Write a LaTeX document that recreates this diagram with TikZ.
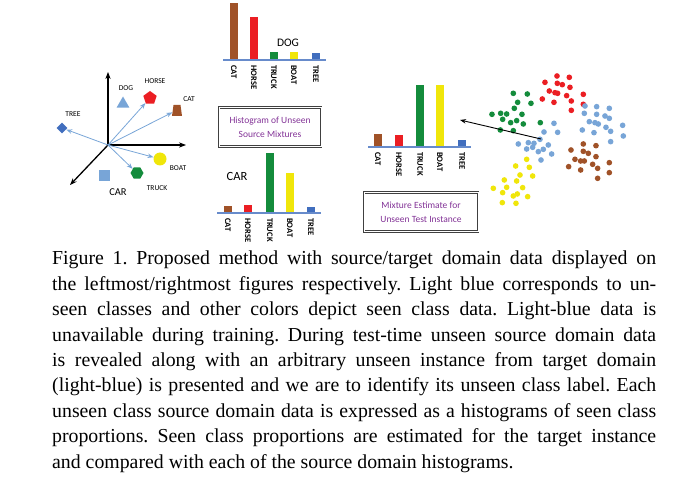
\documentclass[tikz,border=0pt]{standalone}
\usepackage{fontspec}
\setmainfont{Liberation Serif}
\newfontfamily\lab{Carlito}
\usetikzlibrary{shapes.geometric,arrows.meta}
\definecolor{cbrown}{RGB}{160,82,40}
\definecolor{cred}{RGB}{235,30,35}
\definecolor{cgreen}{RGB}{20,140,60}
\definecolor{cyellow}{RGB}{240,230,10}
\definecolor{cblue}{RGB}{65,110,190}
\definecolor{clblue}{RGB}{120,165,215}
\definecolor{cpurple}{RGB}{130,50,150}
\begin{document}
\begin{tikzpicture}[x=1pt,y=-1pt,
  lbl/.style={font=\lab\fontsize{7.5}{8}\selectfont,inner sep=0pt},
  hl/.style={font=\lab\bfseries\fontsize{8.5}{9}\selectfont,rotate=-90,anchor=west,inner sep=0pt},
  base/.style={draw=cblue!80,line width=1.5pt},
  box/.style={draw=black!75,double=white,double distance=1pt,line width=0.8pt,minimum width=102pt,minimum height=39pt,align=center,text=cpurple,font=\lab\fontsize{9.5}{14}\selectfont},
  ax/.style={-{Stealth[length=7pt]},line width=1.3pt},
  va/.style={-{Stealth[length=6pt,open]},clblue,line width=0.8pt}]
\useasboundingbox (0,0) rectangle (682,486);
% axes
\coordinate (O) at (108,145);
\coordinate (yu) at (108,72);
\coordinate (xr) at (186,145);
\coordinate (zd) at (70,185);
\draw[ax] (O) -- (yu);
\draw[ax] (O) -- (xr);
\draw[ax] (O) -- (zd);
\node[diamond,fill=cblue,minimum size=11pt,inner sep=0pt] (tree) at (62,128) {};
\node[lbl] (treel) at (73,114) {TREE};
\node[regular polygon,regular polygon sides=3,fill=clblue,minimum size=15pt,inner sep=0pt] (dog) at (123,104) {};
\node[lbl] (dogl) at (126,88) {DOG};
\node[regular polygon,regular polygon sides=5,fill=cred,minimum size=14pt,inner sep=0pt] (horse) at (150,98) {};
\node[lbl] (horsel) at (155,81) {HORSE};
\node[circle,inner sep=0pt,minimum size=10pt] (cat) at (177,110) {};
\fill[cbrown] (173.5,105) -- (180.5,105) -- (182,116) -- (172,116) -- cycle;
\node[lbl] (catl) at (189,99) {CAT};
\node[circle,fill=cyellow,minimum size=13pt,inner sep=0pt] (boat) at (160,159) {};
\node[lbl] (boatl) at (178,168) {BOAT};
\node[regular polygon,regular polygon sides=6,fill=cgreen,minimum size=13pt,inner sep=0pt] (truck) at (137,173) {};
\node[lbl] (truckl) at (157,188) {TRUCK};
\node[rectangle,fill=clblue,minimum size=11pt,inner sep=0pt] (car) at (104,176) {};
\node[font=\lab\fontsize{10.5}{12}\selectfont,inner sep=0pt] (carl) at (118,192) {CAR};
\draw[va] (O) -- (tree);
\draw[va] (O) -- (horse);
\draw[va] (O) -- (cat);
\draw[va] (O) -- (boat);
\draw[va] (O) -- (truck);
% DOG histogram
\coordinate (d0) at (223,60); \coordinate (d1) at (326,60);
\fill[cbrown] (230,3) rectangle (238,60);
\fill[cred] (250,17) rectangle (258,60);
\fill[cgreen] (270,52) rectangle (278,60);
\fill[cyellow] (290,52) rectangle (298,60);
\fill[cblue] (312,53) rectangle (320,60);
\draw[base] (d0) -- (d1);
\node[font=\lab\fontsize{11.5}{12}\selectfont,inner sep=0pt] (dogt) at (288,43) {DOG};
\foreach \x/\t in {234/CAT,254/HORSE,274/TRUCK,294/BOAT,316/TREE}
  \node[hl] (dh\t) at (\x,65) {\t};
\node[box] (box1) at (270,127) {Histogram of Unseen\\Source Mixtures};
% CAR histogram
\coordinate (c0) at (217,213); \coordinate (c1) at (321,213);
\fill[cbrown] (224,206) rectangle (232,213);
\fill[cred] (244,205) rectangle (252,213);
\fill[cgreen] (266,153) rectangle (274,213);
\fill[cyellow] (286,173) rectangle (294,213);
\fill[cblue] (307,207) rectangle (315,213);
\draw[base] (c0) -- (c1);
\node[font=\lab\fontsize{12.5}{12}\selectfont,inner sep=0pt] (cart) at (237,176) {CAR};
\foreach \x/\t in {228/CAT,248/HORSE,270/TRUCK,290/BOAT,311/TREE}
  \node[hl] (ch\t) at (\x,218) {\t};
% right histogram
\coordinate (r0) at (368,147); \coordinate (r1) at (471,147);
\fill[cbrown] (374,134) rectangle (382,147);
\fill[cred] (395,135) rectangle (403,147);
\fill[cgreen] (416,85) rectangle (424,147);
\fill[cyellow] (436,85) rectangle (444,147);
\fill[cblue] (458,140) rectangle (466,147);
\draw[base] (r0) -- (r1);
\foreach \x/\t in {378/CAT,399/HORSE,420/TRUCK,440/BOAT,462/TREE}
  \node[hl] (rh\t) at (\x,152) {\t};
\node[box,minimum width=114pt] (box2) at (421,212) {Mixture Estimate for\\Unseen Test Instance};
% scatter
\begin{scope}[shift={(340,50)},x=0.3333pt,y=-0.3333pt]
\foreach \p in {(651,78),(688,82),(615,97),(652,100),(667,104),(690,112),(628,123),(645,128),(653,130),(680,137),(607,147),(642,157),(694,153),(730,133),(730,163),(694,181)}
  \fill[cred] \p circle (8.5);
\foreach \p in {(520,130),(562,132),(533,157),(573,160),(456,193),(482,190),(500,192),(523,175),(546,193),(488,208),(512,218),(530,212),(601,218),(481,240),(520,242),(550,222)}
  \fill[cgreen] \p circle (8.5);
\foreach \p in {(735,168),(770,170),(808,175),(733,190),(770,193),(795,198),(748,215),(765,218),(775,222),(808,205),(642,220),(612,246),(653,247),(727,240),(762,248),(798,232),(812,244),(848,226),(850,258),(812,275),(535,282),(565,278),(582,280),(600,268),(625,285),(560,297),(578,292),(595,305),(610,298),(635,312),(603,330)}
  \fill[clblue] \p circle (8.5);
\foreach \p in {(730,282),(768,287),(693,300),(730,304),(745,310),(705,328),(722,333),(733,333),(768,320),(686,350),(722,360),(758,343),(773,355),(808,338),(808,368),(773,385)}
  \fill[cbrown] \p circle (8.5);
\foreach \p in {(560,328),(527,348),(568,352),(540,375),(578,378),(530,393),(493,390),(460,415),(500,412),(548,413),(488,428),(520,438),(563,440),(532,432),(487,458),(528,460)}
  \fill[cyellow] \p circle (8.5);
\end{scope}
\coordinate (inst) at (541,139);
\coordinate (est) at (460,120);
\draw[-{Stealth[length=6pt]},line width=0.9pt] (inst) -- (est);
% caption
\node[anchor=north west,inner sep=0pt,text width=604pt,align=justify,font=\frenchspacing\fontsize{19.8}{25.4}\selectfont] (cap) at (52,251) {%
Figure 1. Proposed method with source/target domain data displayed on\linebreak
the leftmost/rightmost figures respectively. Light blue corresponds to un-\linebreak
seen classes and other colors depict seen class data. Light-blue data is\linebreak
unavailable during training. During test-time unseen source domain data\linebreak
is revealed along with an arbitrary unseen instance from target domain\linebreak
(light-blue) is presented and we are to identify its unseen class label. Each\linebreak
unseen class source domain data is expressed as a histograms of seen class\linebreak
proportions. Seen class proportions are estimated for the target instance\linebreak
and compared with each of the source domain histograms.};
\end{tikzpicture}
\end{document}
